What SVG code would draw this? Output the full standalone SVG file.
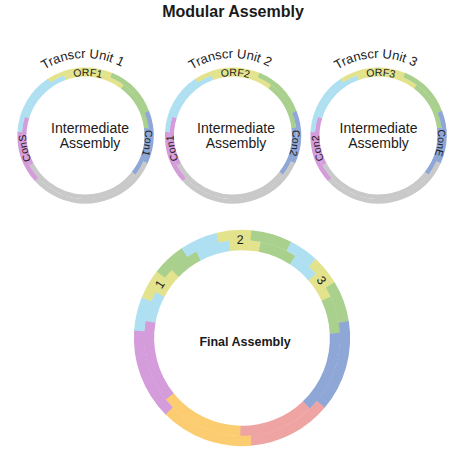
<svg xmlns="http://www.w3.org/2000/svg" xmlns:xlink="http://www.w3.org/1999/xlink" width="474" height="467" viewBox="0 0 474 467">
<style>
text{font-family:"Liberation Sans",Arial,sans-serif;fill:#1a1a1a}
.title{font-size:16px;font-weight:bold}
.unit{font-size:13px}
.lab{font-size:10.5px}
.mid{font-size:14px}
.fin{font-size:12.5px;font-weight:bold}
.big{font-size:12.5px}
.s{fill:none}
.so{stroke-width:4.7}
.si{stroke-width:4.7}
.bo{stroke-width:10.3}
.bi{stroke-width:10.3}
.gy{stroke:#c9c9c9}.mg{stroke:#d49cda}.lb{stroke:#aee0f2}.yl{stroke:#e3e38d}.gn{stroke:#a9d08d}.bl{stroke:#8fa7d6}.or{stroke:#fbcd70}.sa{stroke:#eea4a3}
</style>
<defs>
<path id="tp77" d="M0,77.5 A77.5,77.5 0 0 1 0,-77.5 A77.5,77.5 0 0 1 0,77.5"/>
<path id="tp60" d="M0,59.5 A59.5,59.5 0 0 1 0,-59.5 A59.5,59.5 0 0 1 0,59.5"/>
<path id="tp94" d="M0,94 A94,94 0 0 1 0,-94 A94,94 0 0 1 0,94"/>
<g id="band">
<circle class="s so yl" r="65.75" pathLength="360" stroke-dasharray="57.3 360" transform="rotate(236)"/>
<circle class="s si yl" r="61.25" pathLength="360" stroke-dasharray="57.3 360" transform="rotate(250)"/>
<circle class="s so gn" r="65.75" pathLength="360" stroke-dasharray="46.3 360" transform="rotate(-67)"/>
<circle class="s si gn" r="61.25" pathLength="360" stroke-dasharray="46.3 360" transform="rotate(-53)"/>
<circle class="s so bl" r="65.75" pathLength="360" stroke-dasharray="45.3 360" transform="rotate(-21)"/>
<circle class="s si bl" r="61.25" pathLength="360" stroke-dasharray="45.3 360" transform="rotate(-7)"/>
<circle class="s so gy" r="65.75" pathLength="360" stroke-dasharray="114.3 360" transform="rotate(24)"/>
<circle class="s si gy" r="61.25" pathLength="360" stroke-dasharray="114.3 360" transform="rotate(38)"/>
<circle class="s so mg" r="65.75" pathLength="360" stroke-dasharray="45.3 360" transform="rotate(138)"/>
<circle class="s si mg" r="61.25" pathLength="360" stroke-dasharray="45.3 360" transform="rotate(152)"/>
<circle class="s so lb" r="65.75" pathLength="360" stroke-dasharray="53.3 360" transform="rotate(183)"/>
<circle class="s si lb" r="61.25" pathLength="360" stroke-dasharray="53.3 360" transform="rotate(197)"/>
</g>
</defs>

<text class="title" x="233" y="17" text-anchor="middle">Modular Assembly</text>

<g id="unit1" transform="translate(85.5,135.5)">
<use href="#band" xlink:href="#band"/>
<text class="unit" text-anchor="middle"><textPath href="#tp77" xlink:href="#tp77" startOffset="49.4%">Transcr Unit 1</textPath></text>
<text class="lab" text-anchor="middle"><textPath href="#tp60" xlink:href="#tp60" startOffset="50.6%">ORF1</textPath></text>
<text class="lab" text-anchor="middle"><textPath href="#tp60" xlink:href="#tp60" startOffset="76.9%">Con1</textPath></text>
<text class="lab" text-anchor="middle"><textPath href="#tp60" xlink:href="#tp60" startOffset="21.7%">ConS</textPath></text>
<text class="mid" x="4.5" y="-3" text-anchor="middle">Intermediate</text>
<text class="mid" x="4.5" y="12" text-anchor="middle">Assembly</text>
</g>

<g id="unit2" transform="translate(233,135.5)">
<use href="#band" xlink:href="#band"/>
<text class="unit" text-anchor="middle"><textPath href="#tp77" xlink:href="#tp77" startOffset="49.4%">Transcr Unit 2</textPath></text>
<text class="lab" text-anchor="middle"><textPath href="#tp60" xlink:href="#tp60" startOffset="50.6%">ORF2</textPath></text>
<text class="lab" text-anchor="middle"><textPath href="#tp60" xlink:href="#tp60" startOffset="76.9%">Con2</textPath></text>
<text class="lab" text-anchor="middle"><textPath href="#tp60" xlink:href="#tp60" startOffset="21.7%">Con1</textPath></text>
<text class="mid" x="3" y="-3" text-anchor="middle">Intermediate</text>
<text class="mid" x="3" y="12" text-anchor="middle">Assembly</text>
</g>

<g id="unit3" transform="translate(378.5,135.5)">
<use href="#band" xlink:href="#band"/>
<text class="unit" text-anchor="middle"><textPath href="#tp77" xlink:href="#tp77" startOffset="49.4%">Transcr Unit 3</textPath></text>
<text class="lab" text-anchor="middle"><textPath href="#tp60" xlink:href="#tp60" startOffset="50.6%">ORF3</textPath></text>
<text class="lab" text-anchor="middle"><textPath href="#tp60" xlink:href="#tp60" startOffset="76.9%">ConE</textPath></text>
<text class="lab" text-anchor="middle"><textPath href="#tp60" xlink:href="#tp60" startOffset="21.7%">Con2</textPath></text>
<text class="mid" x="0" y="-3" text-anchor="middle">Intermediate</text>
<text class="mid" x="0" y="12" text-anchor="middle">Assembly</text>
</g>

<g id="final" transform="translate(242,338)">
<circle class="s bo yl" r="103" pathLength="360" stroke-dasharray="19.3 360" transform="rotate(256)"/>
<circle class="s bi yl" r="93" pathLength="360" stroke-dasharray="19.3 360" transform="rotate(262)"/>
<circle class="s bo gn" r="103" pathLength="360" stroke-dasharray="22.3 360" transform="rotate(-85)"/>
<circle class="s bi gn" r="93" pathLength="360" stroke-dasharray="22.3 360" transform="rotate(-79)"/>
<circle class="s bo lb" r="103" pathLength="360" stroke-dasharray="16.3 360" transform="rotate(-63)"/>
<circle class="s bi lb" r="93" pathLength="360" stroke-dasharray="16.3 360" transform="rotate(-57)"/>
<circle class="s bo yl" r="103" pathLength="360" stroke-dasharray="16.3 360" transform="rotate(-47)"/>
<circle class="s bi yl" r="93" pathLength="360" stroke-dasharray="16.3 360" transform="rotate(-41)"/>
<circle class="s bo gn" r="103" pathLength="360" stroke-dasharray="22.3 360" transform="rotate(-31)"/>
<circle class="s bi gn" r="93" pathLength="360" stroke-dasharray="22.3 360" transform="rotate(-25)"/>
<circle class="s bo bl" r="103" pathLength="360" stroke-dasharray="49.3 360" transform="rotate(-9)"/>
<circle class="s bi bl" r="93" pathLength="360" stroke-dasharray="49.3 360" transform="rotate(-3)"/>
<circle class="s bo sa" r="103" pathLength="360" stroke-dasharray="45.3 360" transform="rotate(40)"/>
<circle class="s bi sa" r="93" pathLength="360" stroke-dasharray="45.3 360" transform="rotate(46)"/>
<circle class="s bo or" r="103" pathLength="360" stroke-dasharray="50.3 360" transform="rotate(85)"/>
<circle class="s bi or" r="93" pathLength="360" stroke-dasharray="50.3 360" transform="rotate(91)"/>
<circle class="s bo mg" r="103" pathLength="360" stroke-dasharray="49.3 360" transform="rotate(135)"/>
<circle class="s bi mg" r="93" pathLength="360" stroke-dasharray="49.3 360" transform="rotate(141)"/>
<circle class="s bo lb" r="103" pathLength="360" stroke-dasharray="18.3 360" transform="rotate(184)"/>
<circle class="s bi lb" r="93" pathLength="360" stroke-dasharray="18.3 360" transform="rotate(190)"/>
<circle class="s bo yl" r="103" pathLength="360" stroke-dasharray="16.3 360" transform="rotate(202)"/>
<circle class="s bi yl" r="93" pathLength="360" stroke-dasharray="16.3 360" transform="rotate(208)"/>
<circle class="s bo gn" r="103" pathLength="360" stroke-dasharray="18.3 360" transform="rotate(218)"/>
<circle class="s bi gn" r="93" pathLength="360" stroke-dasharray="18.3 360" transform="rotate(224)"/>
<circle class="s bo lb" r="103" pathLength="360" stroke-dasharray="20.3 360" transform="rotate(236)"/>
<circle class="s bi lb" r="93" pathLength="360" stroke-dasharray="20.3 360" transform="rotate(242)"/>
<text class="big" text-anchor="middle"><textPath href="#tp94" xlink:href="#tp94" startOffset="49.7%">2</textPath></text>
<text class="big" text-anchor="middle"><textPath href="#tp94" xlink:href="#tp94" startOffset="34.2%">1</textPath></text>
<text class="big" text-anchor="middle"><textPath href="#tp94" xlink:href="#tp94" startOffset="65%">3</textPath></text>
<text class="fin" x="3" y="8" text-anchor="middle">Final Assembly</text>
</g>
</svg>
